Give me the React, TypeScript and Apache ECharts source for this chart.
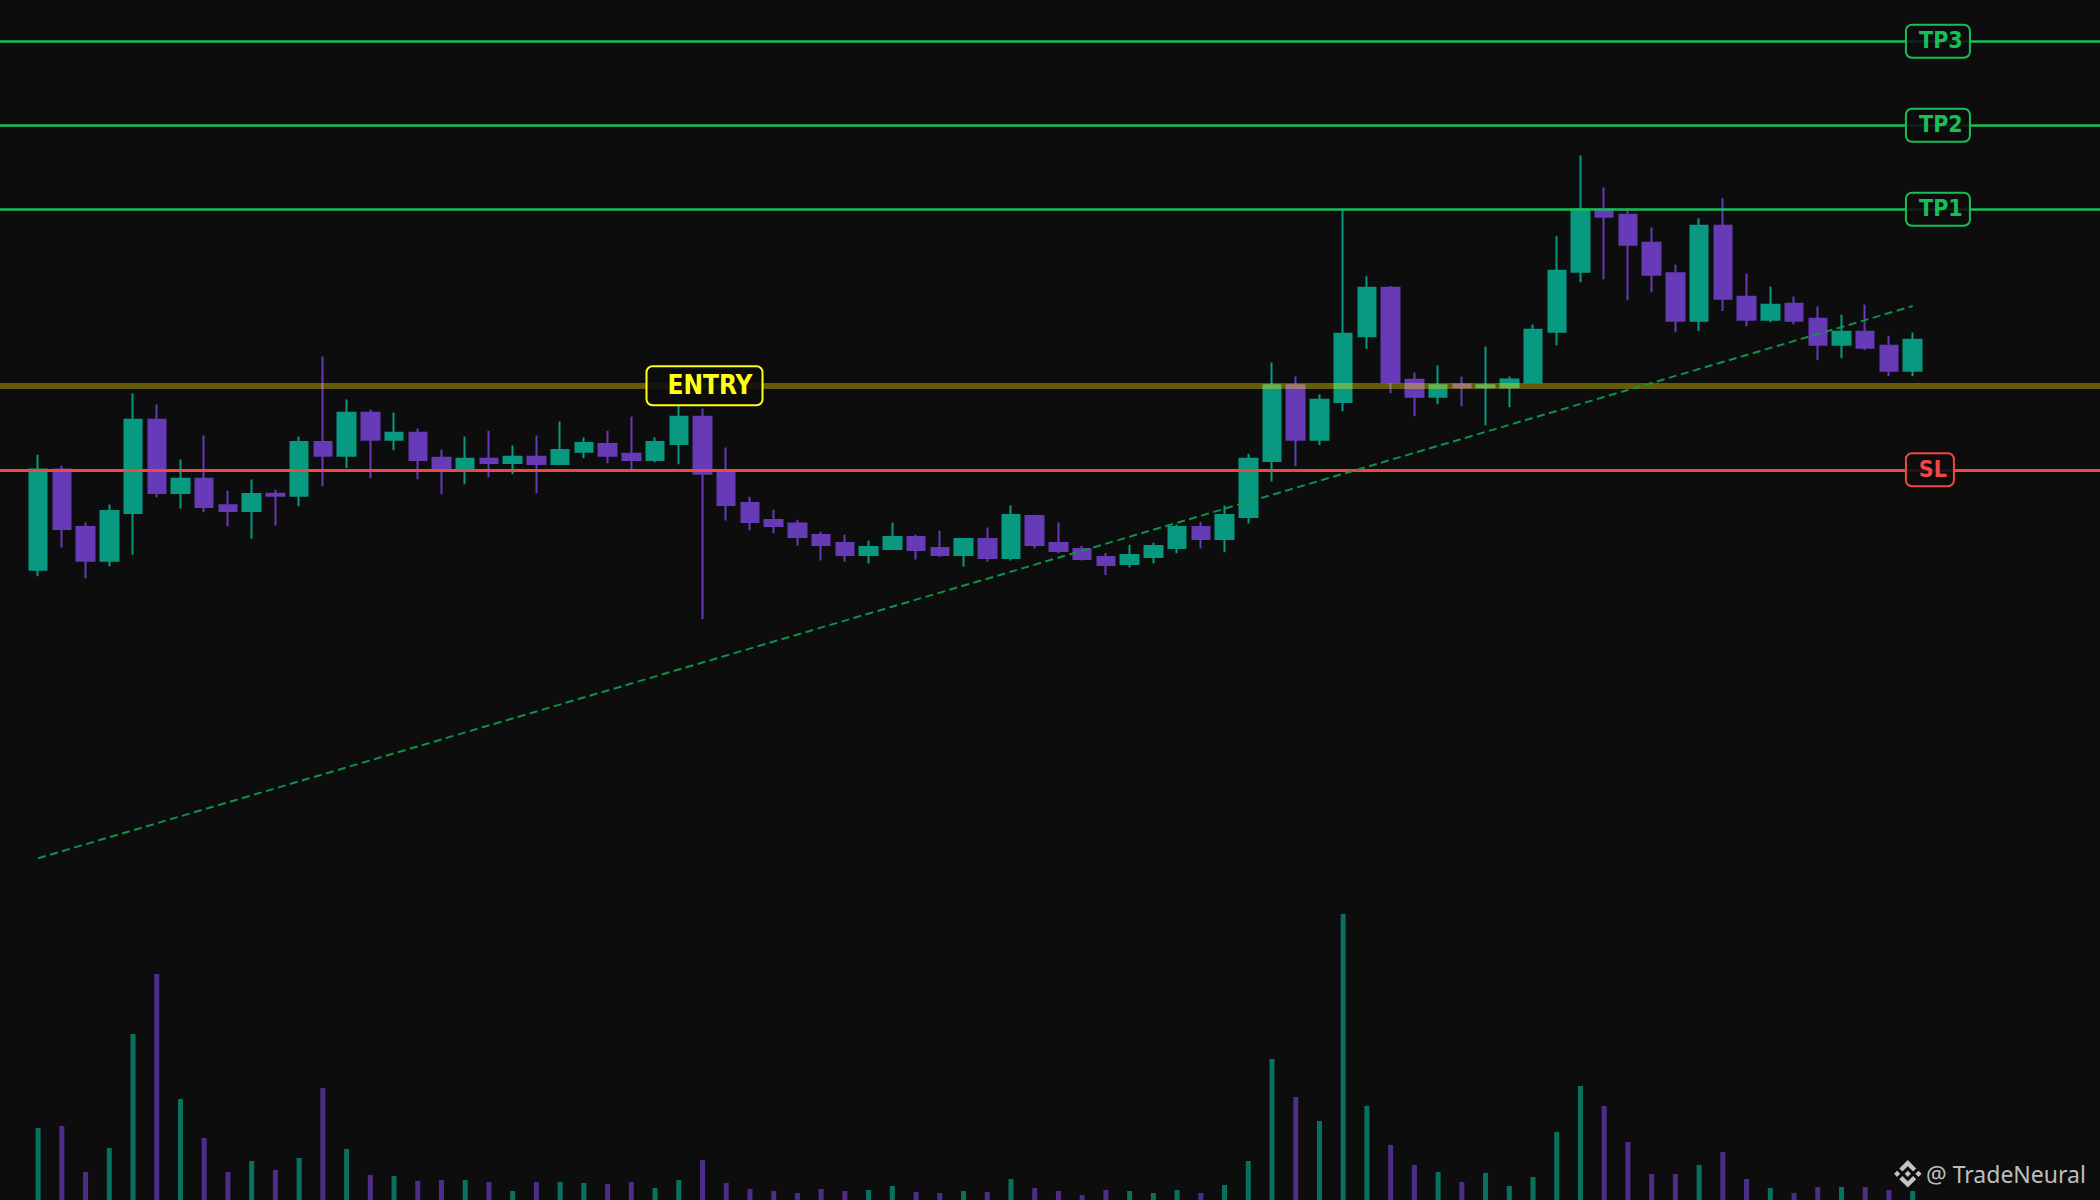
import React, { useEffect, useRef } from "react";
import * as echarts from "echarts";

// ---------- data ----------
const opens = [
  89.06, 95.01, 91.6, 89.59, 92.43, 97.97, 93.62, 94.46, 92.89, 92.55,
  93.58, 93.45, 96.66, 95.83, 98.39, 96.78, 97.2, 95.71, 95.11, 95.65,
  95.41, 95.77, 95.35, 96.07, 96.54, 95.95, 95.59, 96.54, 98.15, 94.91,
  93.03, 92.02, 91.8, 91.12, 90.65, 89.93, 90.29, 91.0, 90.35, 89.93,
  90.88, 89.75, 92.25, 90.65, 90.29, 89.81, 89.4, 89.81, 90.35, 91.6,
  90.88, 92.19, 95.53, 100.03, 96.78, 99.04, 102.95, 105.83, 100.35, 99.34,
  100.07, 99.91, 99.91, 100.21, 103.21, 106.78, 110.48, 110.18, 108.51, 106.7,
  103.87, 109.52, 105.3, 103.93, 104.88, 103.99, 102.44, 103.21, 102.38, 100.89,
];
const closes = [
  95.01, 91.48, 89.59, 92.55, 97.97, 93.62, 94.46, 92.79, 92.55, 93.56,
  93.45, 96.66, 95.83, 98.39, 96.78, 97.2, 95.59, 95.11, 95.65, 95.41,
  95.77, 95.35, 96.18, 96.6, 95.83, 95.59, 96.66, 98.15, 94.76, 92.91,
  91.9, 91.66, 91.0, 90.53, 89.93, 90.41, 91.0, 90.23, 89.93, 90.88,
  89.75, 92.31, 90.53, 90.17, 89.69, 89.34, 89.93, 90.47, 91.6, 90.88,
  92.31, 95.65, 100.03, 96.78, 99.16, 103.09, 105.83, 100.21, 99.34, 100.03,
  99.91, 100.03, 100.37, 103.33, 106.84, 110.48, 110.06, 108.39, 106.61, 103.87,
  109.52, 105.18, 103.93, 104.82, 103.87, 102.44, 103.21, 102.26, 100.89, 102.74,
];
const highs = [
  95.9, 95.25, 91.86, 92.93, 99.54, 98.88, 95.61, 97.04, 93.76, 94.42,
  93.82, 96.98, 101.74, 99.18, 98.58, 98.41, 97.45, 96.2, 96.98, 97.33,
  96.44, 97.04, 97.87, 96.92, 97.33, 98.17, 96.92, 98.88, 98.64, 96.32,
  93.4, 92.63, 92.03, 91.32, 91.14, 90.78, 91.86, 91.14, 91.38, 90.9,
  91.56, 92.87, 92.33, 91.86, 90.47, 90.05, 90.54, 90.66, 91.74, 91.91,
  92.87, 95.96, 101.38, 100.55, 99.48, 110.55, 106.52, 105.93, 100.79, 101.2,
  100.55, 102.34, 100.55, 103.65, 108.89, 113.71, 111.8, 110.55, 109.42, 107.2,
  109.96, 111.15, 106.68, 105.91, 105.31, 104.72, 104.24, 104.84, 102.97, 103.17,
];
const lows = [
  88.66, 90.38, 88.54, 89.25, 89.95, 93.36, 92.69, 92.47, 91.63, 90.9,
  91.69, 92.83, 94.02, 95.11, 94.49, 96.16, 94.43, 93.54, 94.14, 94.55,
  94.73, 93.6, 95.29, 95.68, 95.39, 94.97, 95.45, 95.33, 86.12, 91.99,
  91.4, 91.22, 90.5, 89.61, 89.55, 89.43, 90.27, 89.67, 89.81, 89.25,
  89.55, 89.61, 90.32, 90.03, 89.61, 88.74, 89.19, 89.43, 90.03, 90.32,
  90.09, 91.81, 94.31, 95.21, 96.48, 98.48, 102.18, 99.55, 98.19, 98.9,
  98.78, 97.65, 98.72, 100.15, 102.41, 106.16, 106.34, 105.09, 105.57, 103.19,
  103.25, 104.44, 103.54, 103.78, 103.66, 101.52, 101.64, 102.12, 100.57, 100.57,
];
const volumes = [
  72, 74, 28, 52, 166, 226, 101, 62, 28, 39,
  30, 42, 112, 51, 25, 24, 19, 20, 20, 18,
  9, 18, 18, 17, 16, 18, 12, 20, 40, 17,
  11, 9, 7, 11, 9, 10, 14, 8, 7, 9,
  8, 21, 12, 9, 5, 10, 9, 7, 10, 7,
  15, 39, 141, 103, 79, 286, 94, 55, 35, 28,
  18, 27, 14, 23, 68, 114, 94, 58, 26, 26,
  35, 48, 21, 12, 7, 13, 13, 13, 10, 9,
];

const tpNames = ["TP1", "TP2", "TP3"];
const tpValues = [110.5, 115.5, 120.5];
const entryPrice = 100;
const slPrice = 95;
const trendStart = [0, 71.89];
const trendEnd = [79, 104.74];
const entryLabelIndex = 28;
const levelLabelIndex = 80;

// ---------- styles ----------
const BG = "#0d0d0d";
const UP = "#089981";
const DOWN = "#673ab7";
const VOL_UP = "rgba(8,153,129,0.72)";
const VOL_DOWN = "rgba(103,58,183,0.72)";
const TP_COLOR = "#18bf58";
const SL_COLOR = "#f04646";
const ENTRY_COLOR = "#ffff1a";
const LABEL_FONT = '"DejaVu Sans Condensed", "DejaVu Sans", sans-serif';

const BINANCE_D =
  "M16.624 13.9202l2.7175 2.7154-7.353 7.353-7.353-7.352 2.7175-2.7164 4.6355 4.6595 4.6356-4.6595zm4.6366-4.6366L24 12l-2.7154 2.7164L18.5682 12l2.6924-2.7164zm-9.272.001l2.7163 2.6914-2.7164 2.7174v-.001L9.2721 12l2.7164-2.7154zm-9.2722-.001L5.4088 12l-2.6914 2.6924L0 12l2.7164-2.7164zM11.9885.0115l7.353 7.329-2.7174 2.7154-4.6356-4.6356-4.6355 4.6595-2.7174-2.7154 7.353-7.353z";
echarts.graphic.registerShape("binanceLogo", echarts.graphic.extendPath(BINANCE_D, {}) as any);

export default function App() {
  const ref = useRef<HTMLDivElement>(null);

  useEffect(() => {
    const el = ref.current!;
    const chart = echarts.init(el, null, { renderer: "svg" });

    const candleData = opens.map((o, i) => [i, o, closes[i], lows[i], highs[i]]);
    const volData = volumes.map((v, i) => ({
      value: [i, v],
      itemStyle: { color: closes[i] >= opens[i] ? VOL_UP : VOL_DOWN },
    }));
    const xMin = -1.606;
    const xMax = 86.894;

    const levelLines: any[] = tpValues.map((v) => ({
      yAxis: v,
      lineStyle: { color: TP_COLOR, width: 2.5, type: "solid", opacity: 1 },
    }));
    levelLines.push({
      yAxis: entryPrice,
      lineStyle: { color: "rgba(255,232,0,0.36)", width: 6, type: "solid", opacity: 1 },
    });
    levelLines.push({
      yAxis: slPrice,
      lineStyle: { color: SL_COLOR, width: 3, type: "solid", opacity: 1 },
    });
    levelLines.push([
      {
        coord: trendStart,
        lineStyle: { color: "#0f9a4c", width: 2, type: [8, 4.5], opacity: 0.95 },
      },
      { coord: trendEnd },
    ]);

    chart.setOption({
      animation: false,
      backgroundColor: BG,
      grid: [
        { left: 0, right: 0, top: 0, height: 890 },
        { left: 0, right: 0, top: 900, height: 300 },
      ],
      xAxis: [
        { type: "value", gridIndex: 0, min: xMin, max: xMax, show: false, splitLine: { show: false } },
        { type: "value", gridIndex: 1, min: xMin, max: xMax, show: false, splitLine: { show: false } },
      ],
      yAxis: [
        { type: "value", gridIndex: 0, min: 70, max: 122.95, show: false, splitLine: { show: false } },
        { type: "value", gridIndex: 1, min: 0, max: 300, show: false, splitLine: { show: false } },
      ],
      series: [
        {
          type: "candlestick",
          xAxisIndex: 0,
          yAxisIndex: 0,
          data: candleData,
          encode: { x: 0, y: [1, 2, 3, 4] },
          barWidth: 18,
          itemStyle: {
            color: UP,
            color0: DOWN,
            borderColor: UP,
            borderColor0: DOWN,
            borderWidth: 2,
          },
          markLine: {
            silent: true,
            symbol: ["none", "none"],
            label: { show: false },
            emphasis: { disabled: true },
            z: 5,
            data: levelLines,
          },
        },
        {
          type: "bar",
          xAxisIndex: 1,
          yAxisIndex: 1,
          data: volData,
          barWidth: 5,
        },
      ],
    });

    const px = (i: number) => chart.convertToPixel({ xAxisIndex: 0 } as any, i) as unknown as number;
    const py = (v: number) => chart.convertToPixel({ yAxisIndex: 0 } as any, v) as unknown as number;

    const graphics: any[] = [];
    const addBox = (
      cx: number,
      cy: number,
      w: number,
      h: number,
      color: string,
      text: string,
      fontSize: number,
      textDx: number
    ) => {
      graphics.push({
        type: "rect",
        z: 10,
        shape: { x: cx - w / 2, y: cy - h / 2, width: w, height: h, r: 6 },
        style: { fill: "rgba(13,13,13,0.88)", stroke: color, lineWidth: 2 },
      });
      graphics.push({
        type: "text",
        z: 11,
        x: cx + textDx,
        y: cy - 1,
        style: {
          text,
          fill: color,
          font: `bold ${fontSize}px ${LABEL_FONT}`,
          align: "center",
          verticalAlign: "middle",
        },
      });
    };

    const lx = px(levelLabelIndex) + 1.5;
    tpValues.forEach((v, k) => addBox(lx, py(v), 64, 33, TP_COLOR, tpNames[k], 23, 3));
    addBox(lx - 8, py(slPrice), 48, 33, SL_COLOR, "SL", 23, 3);
    addBox(px(entryLabelIndex) + 2, py(entryPrice), 116, 39, ENTRY_COLOR, "ENTRY", 26, 5.5);

    // watermark
    graphics.push({
      type: "binanceLogo",
      z: 12,
      x: 1894,
      y: 1160,
      scaleX: 1.15,
      scaleY: 1.15,
      style: { fill: "rgba(215,215,215,0.9)" },
    });
    graphics.push({
      type: "text",
      z: 12,
      x: 1926,
      y: 1174,
      style: {
        text: "@ TradeNeural",
        fill: "rgba(215,215,215,0.9)",
        font: '23px "Noto Sans", sans-serif',
        align: "left",
        verticalAlign: "middle",
      },
    });

    chart.setOption({ graphic: graphics });

    return () => {
      chart.dispose();
    };
  }, []);

  return (
    <div
      ref={ref}
      style={{ position: "absolute", left: 0, top: 0, width: 2100, height: 1200 }}
    />
  );
}
